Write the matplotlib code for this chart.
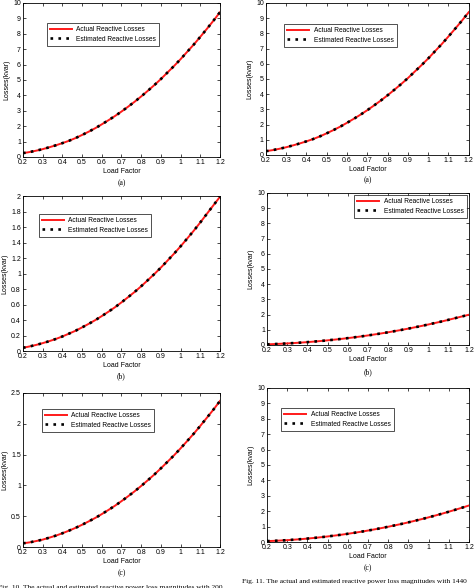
import matplotlib
matplotlib.use("Agg")
from matplotlib import pyplot as plt

# load factor points
load_factor = [0.2, 0.233, 0.267, 0.3, 0.333, 0.367, 0.4, 0.433, 0.467, 0.5,
               0.533, 0.567, 0.6, 0.633, 0.667, 0.7, 0.733, 0.767, 0.8, 0.833,
               0.867, 0.9, 0.933, 0.967, 1.0, 1.033, 1.067, 1.1, 1.133, 1.167, 1.2]

# reactive losses (kvar)
loss_a = [0.25, 0.32, 0.41, 0.51, 0.63, 0.76, 0.90, 1.05, 1.23, 1.43,
          1.64, 1.87, 2.12, 2.38, 2.66, 2.95, 3.26, 3.59, 3.93, 4.29,
          4.67, 5.06, 5.48, 5.91, 6.35, 6.82, 7.30, 7.80, 8.31, 8.85, 9.40]
loss_b = [0.042, 0.059, 0.079, 0.102, 0.127, 0.156, 0.188, 0.224, 0.262, 0.305,
          0.350, 0.399, 0.451, 0.506, 0.565, 0.628, 0.694, 0.763, 0.836, 0.913,
          0.994, 1.077, 1.165, 1.257, 1.351, 1.450, 1.553, 1.659, 1.769, 1.882, 1.99]
loss_c = [0.06, 0.075, 0.097, 0.120, 0.151, 0.185, 0.223, 0.265, 0.311, 0.361,
          0.415, 0.472, 0.534, 0.600, 0.670, 0.744, 0.822, 0.905, 0.991, 1.082,
          1.177, 1.277, 1.381, 1.489, 1.601, 1.718, 1.840, 1.966, 2.096, 2.231, 2.37]

x_ticks = [0.2, 0.3, 0.4, 0.5, 0.6, 0.7, 0.8, 0.9, 1.0, 1.1, 1.2]
x_tick_labels = ["0.2", "0.3", "0.4", "0.5", "0.6", "0.7", "0.8", "0.9", "1", "1.1", "1.2"]

plt.rcParams['font.family'] = ['Liberation Sans', 'DejaVu Sans']

fig = plt.figure(figsize=(4.74, 5.88), dpi=100)

# (rect, data, ylim, yticks, ytick labels, legend anchor, legend loc, caption, caption y)
panels = [
    ([0.0485, 0.733, 0.4156, 0.262], loss_a, 10, list(range(11)), None,
     (0.12, 0.87), "upper left", "(a)", 183),
    ([0.0485, 0.403, 0.4156, 0.2636], loss_b, 2, [0, 0.2, 0.4, 0.6, 0.8, 1, 1.2, 1.4, 1.6, 1.8, 2],
     ["0", "0.2", "0.4", "0.6", "0.8", "1", "1.2", "1.4", "1.6", "1.8", "2"],
     (0.08, 0.885), "upper left", "(b)", 376),
    ([0.0485, 0.0697, 0.4156, 0.262], loss_c, 2.5, [0, 0.5, 1, 1.5, 2, 2.5],
     ["0", "0.5", "1", "1.5", "2", "2.5"],
     (0.095, 0.895), "upper left", "(c)", 573),
    ([0.561, 0.7364, 0.428, 0.2585], loss_a, 10, list(range(11)), None,
     (0.09, 0.862), "upper left", "(a)", 180),
    ([0.5633, 0.4133, 0.426, 0.2585], loss_b, 10, list(range(11)), None,
     (0.99, 0.987), "upper right", "(b)", 372),
    ([0.5633, 0.0782, 0.426, 0.262], loss_c, 10, list(range(11)), None,
     (0.07, 0.87), "upper left", "(c)", 568),
]

for rect, losses, ymax, yticks, ylabels, anchor, loc, cap, cap_y in panels:
    ax = fig.add_axes(rect)
    ax.plot(load_factor, losses, color="#ff1a1a", linewidth=1.4, label="Actual Reactive Losses")
    ax.plot(load_factor, losses, color="black", linewidth=1.9, linestyle=(0, (1, 2.0)),
            label="Estimated Reactive Losses")
    ax.set_xlim(0.2, 1.2)
    ax.set_ylim(0, ymax)
    ax.set_xticks(x_ticks)
    ax.set_xticklabels(x_tick_labels)
    ax.set_yticks(yticks)
    if ylabels is not None:
        ax.set_yticklabels(ylabels)
    ax.tick_params(direction="in", top=True, right=True, length=2.5, width=0.5,
                   labelsize=5, pad=1.5)
    for s in ax.spines.values():
        s.set_linewidth(0.6)
    ax.set_xlabel("Load Factor", fontsize=5, labelpad=1.5)
    ax.set_ylabel("Losses(kvar)", fontsize=5, labelpad=2)
    leg = ax.legend(loc=loc, bbox_to_anchor=anchor, fontsize=4.8, frameon=True,
                    fancybox=False, edgecolor="black", borderaxespad=0,
                    handlelength=3.3, handletextpad=0.7, borderpad=0.45,
                    labelspacing=0.4)
    leg.get_frame().set_linewidth(0.6)
    # sub caption under the axes
    x_mid = (rect[0] + rect[2] / 2)
    fig.text(x_mid, 1 - cap_y / 588, cap, fontsize=5.5, family="Liberation Serif",
             ha="center", va="center")

fig.text(-0.005, 1 - 587 / 588, "Fig. 10. The actual and estimated reactive power loss magnitudes with 200",
         fontsize=5.4, family="Liberation Serif", ha="left", va="center")
fig.text(0.511, 1 - 582 / 588, "Fig. 11. The actual and estimated reactive power loss magnitudes with 1440",
         fontsize=5.3, family="Liberation Serif", ha="left", va="center")

fig.savefig("out.png", dpi=100)
